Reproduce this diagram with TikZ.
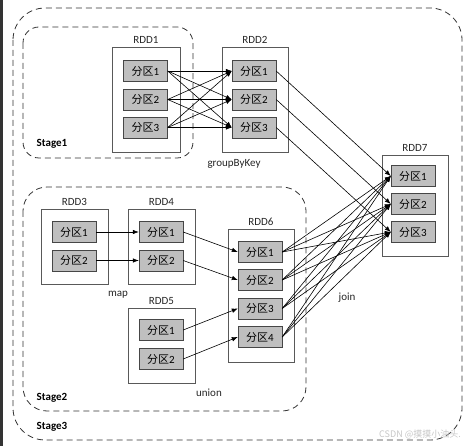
\documentclass[tikz,border=0pt]{standalone}
\usepackage{fontspec}
\setmainfont{Carlito}
\newfontfamily\cjk{Noto Sans CJK SC}
\usetikzlibrary{arrows.meta,positioning}

\begin{document}
\begin{tikzpicture}[
  x=1pt, y=-1pt,
  part/.style={rectangle, draw=gray!55!black, fill=gray!50, minimum width=44pt, minimum height=21pt, inner sep=0pt, font=\fontsize{11}{12}\selectfont},
  frame/.style={rectangle, draw=gray!70!black, inner sep=0pt},
  stage/.style={draw=gray!40!black, dashed, dash pattern=on 6pt off 4pt, thick},
  arrow/.style={-{Latex[length=6pt,width=4.5pt]}, semithick},
  label/.style={font=\fontsize{11}{12}\selectfont, text=black!85},
  slabel/.style={font=\fontsize{11}{12}\selectfont\bfseries},
]
\useasboundingbox (0,0) rectangle (474,446);
\fill[black!80] (0,0) rectangle (3,446);

% === Stages ===
\draw[stage, rounded corners=32pt] (13,8) rectangle (462,440);
\draw[stage, rounded corners=16pt] (23,27) rectangle (193,158);
\draw[stage, rounded corners=24pt] (23,187) rectangle (306,411);
\node[slabel] (s1) at (52,144) {Stage1};
\node[slabel] (s2) at (52,398) {Stage2};
\node[slabel] (s3) at (52,427) {Stage3};

% === RDD frames ===
\node[frame, minimum width=68pt, minimum height=105pt] (rdd1) at (146,99.5) {};
\node[frame, minimum width=66pt, minimum height=105pt] (rdd2) at (255,99.5) {};
\node[frame, minimum width=66pt, minimum height=101pt] (rdd7) at (415,205.5) {};
\node[frame, minimum width=67pt, minimum height=75pt] (rdd3) at (74.5,246.5) {};
\node[frame, minimum width=67pt, minimum height=75pt] (rdd4) at (161.5,246.5) {};
\node[frame, minimum width=67pt, minimum height=75pt] (rdd5) at (161.5,345.5) {};
\node[frame, minimum width=66pt, minimum height=133pt] (rdd6) at (261,295.5) {};

\foreach \r/\t in {rdd1/RDD1, rdd2/RDD2, rdd3/RDD3, rdd4/RDD4, rdd5/RDD5, rdd6/RDD6, rdd7/RDD7}
  \node[label, above=0pt of \r.north] {\t};

% === partitions ===
\foreach \i/\y in {1/71, 2/99.5, 3/127.5} {
  \node[part] (a\i) at (145.5,\y) {{\cjk 分区}\i};
  \node[part] (b\i) at (254,\y) {{\cjk 分区}\i};
}
\foreach \i/\y in {1/176, 2/204, 3/232}
  \node[part] (g\i) at (413,\y) {{\cjk 分区}\i};
\foreach \i/\y in {1/232, 2/260.5} {
  \node[part] (c\i) at (74,\y) {{\cjk 分区}\i};
  \node[part] (d\i) at (161,\y) {{\cjk 分区}\i};
}
\foreach \i/\y in {1/330, 2/359}
  \node[part] (e\i) at (161,\y) {{\cjk 分区}\i};
\foreach \i/\y in {1/252, 2/280, 3/308.5, 4/337}
  \node[part] (f\i) at (260,\y) {{\cjk 分区}\i};

% === operations ===
\node[label] (gbk) at (234,164) {groupByKey};
\node[label] (map) at (118,295) {map};
\node[label] (uni) at (209,393) {union};
\node[label] (join) at (347,298) {join};

% === dependencies ===
\foreach \i in {1,2,3}
  \foreach \j in {1,2,3}
    \draw[arrow] (a\i.east) -- (b\j.west);
\foreach \i in {1,2,3}
  \draw[arrow] (b\i.east) -- (g\i.west);
\foreach \i in {1,2}
  \draw[arrow] (c\i.east) -- (d\i.west);
\draw[arrow] (d1.east) -- (f1.west);
\draw[arrow] (d2.east) -- (f2.west);
\draw[arrow] (e1.east) -- (f3.west);
\draw[arrow] (e2.east) -- (f4.west);
\foreach \i in {1,2,3,4}
  \foreach \j in {1,2,3}
    \draw[arrow] (f\i.east) -- (g\j.west);

\node[font=\cjk\fontsize{9}{10}\selectfont, text=gray!45] (wm) at (420,434) {CSDN @摸摸小油头.};
\end{tikzpicture}
\end{document}
